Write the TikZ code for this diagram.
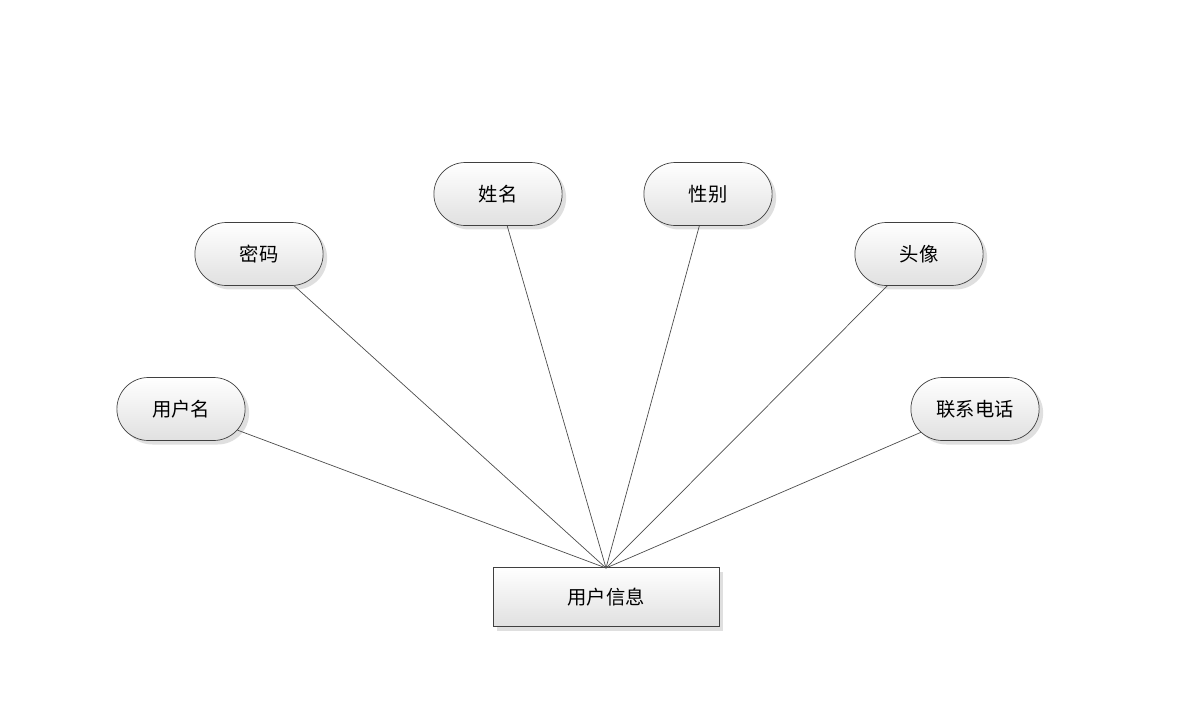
\documentclass[tikz,border=0pt]{standalone}
\usepackage{fontspec}
\newfontfamily\cjk{Noto Sans CJK SC}
\usetikzlibrary{shapes.misc, shadows}

\tikzset{
    attr/.style={rounded rectangle, draw=black!75, thin, minimum width=2.8cm, minimum height=1.26cm,
        top color=white, bottom color=black!12, drop shadow={shadow xshift=0.08cm, shadow yshift=-0.08cm, fill=black!25},
        font=\cjk\fontsize{11}{13}\selectfont},
    entity/.style={rectangle, draw=black!75, thin, minimum width=4.52cm, minimum height=1.18cm,
        top color=white, bottom color=black!12, drop shadow={shadow xshift=0.08cm, shadow yshift=-0.08cm, fill=black!25},
        font=\cjk\fontsize{11}{13}\selectfont},
    link/.style={draw=black!70, thin}
}

\begin{document}
\begin{tikzpicture}[x=0.02cm, y=-0.02cm]
        \useasboundingbox (0,0) rectangle (1182,720);

        % Entity
        \node[entity] (info) at (606,597) {用户信息};
        \coordinate (hub) at (606,568);

        % Attributes
        \node[attr] (user) at (181,409) {用户名};
        \node[attr] (pwd) at (259,254) {密码};
        \node[attr] (name) at (498,194) {姓名};
        \node[attr] (sex) at (708,194) {性别};
        \node[attr] (avatar) at (919,254) {头像};
        \node[attr] (phone) at (975,409) {联系电话};

        % Links
        \foreach \a in {user, pwd, name, sex, avatar, phone}
            \draw[link] (\a) -- (hub);
    \end{tikzpicture}
\end{document}
